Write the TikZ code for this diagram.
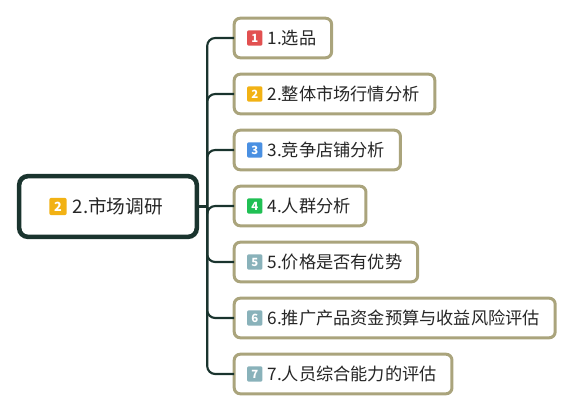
\documentclass[tikz,border=0pt]{standalone}
\usepackage{fontspec}
\setmainfont{Noto Sans CJK SC}
\usetikzlibrary{positioning}
\definecolor{MapaEscuro}{RGB}{26,52,46}
\definecolor{MapaCaqui}{RGB}{170,164,124}
\definecolor{MapaVermelho}{RGB}{226,80,80}
\definecolor{MapaLaranja}{RGB}{242,178,20}
\definecolor{MapaAzul}{RGB}{74,144,226}
\definecolor{MapaVerde}{RGB}{32,192,84}
\definecolor{MapaCinza}{RGB}{137,178,186}
\tikzset{
  raiz/.style={draw=MapaEscuro, fill=white, line width=3.4pt, rounded corners=6.5pt,
               outer sep=0pt, inner sep=0pt, minimum width=133.2pt, minimum height=45.5pt,
               font=\fontsize{14pt}{16pt}\selectfont, text=black!85},
  filho/.style={draw=MapaCaqui, fill=white, line width=2.25pt, rounded corners=4.5pt,
                outer sep=0pt, inner xsep=11.4pt, inner ysep=0pt, minimum height=29.7pt,
                font=\fontsize{12.9pt}{16pt}\selectfont, text=black!85, anchor=west},
  selo/.style={rounded corners=1.5pt, inner sep=0pt, minimum size=11.6pt, text=white,
               font=\fontsize{8.5pt}{9pt}\selectfont\bfseries, anchor=west},
  ligacao/.style={draw=MapaEscuro, line width=1.6pt, rounded corners=6pt},
}

\begin{document}
\begin{tikzpicture}[x=0.75pt, y=-0.75pt]
  \useasboundingbox (0,0) rectangle (569,412);

  % no central
  \node[raiz] (raiz) at (108,206.5) {\hspace*{17.8pt}2.市场调研\hspace*{3pt}};
  \node[selo, fill=MapaLaranja, minimum size=13pt, font=\fontsize{9.5pt}{10pt}\selectfont\bfseries]
    (seloraiz) at ([xshift=22.4pt]raiz.west) {2};
  \coordinate (tronco) at ([xshift=7.8pt]raiz.east);
  \draw[ligacao] (raiz.east) -- (tronco);

  % ramos
  \foreach \i/\cor/\lab in {1/MapaVermelho/{1.选品}, 2/MapaLaranja/{2.整体市场行情分析},
                            3/MapaAzul/{3.竞争店铺分析}, 4/MapaVerde/{4.人群分析},
                            5/MapaCinza/{5.价格是否有优势}, 6/MapaCinza/{6.推广产品资金预算与收益风险评估},
                            7/MapaCinza/{7.人员综合能力的评估}}{
    \node[filho] (filho\i) at (234.2,38+\i*56-56) {\hspace*{13.7pt}\lab};
    \node[selo, fill=\cor] (selo\i) at ([xshift=9.4pt]filho\i.west) {\i};
    \draw[ligacao] (tronco) |- (filho\i.west);
  }
\end{tikzpicture}
\end{document}
